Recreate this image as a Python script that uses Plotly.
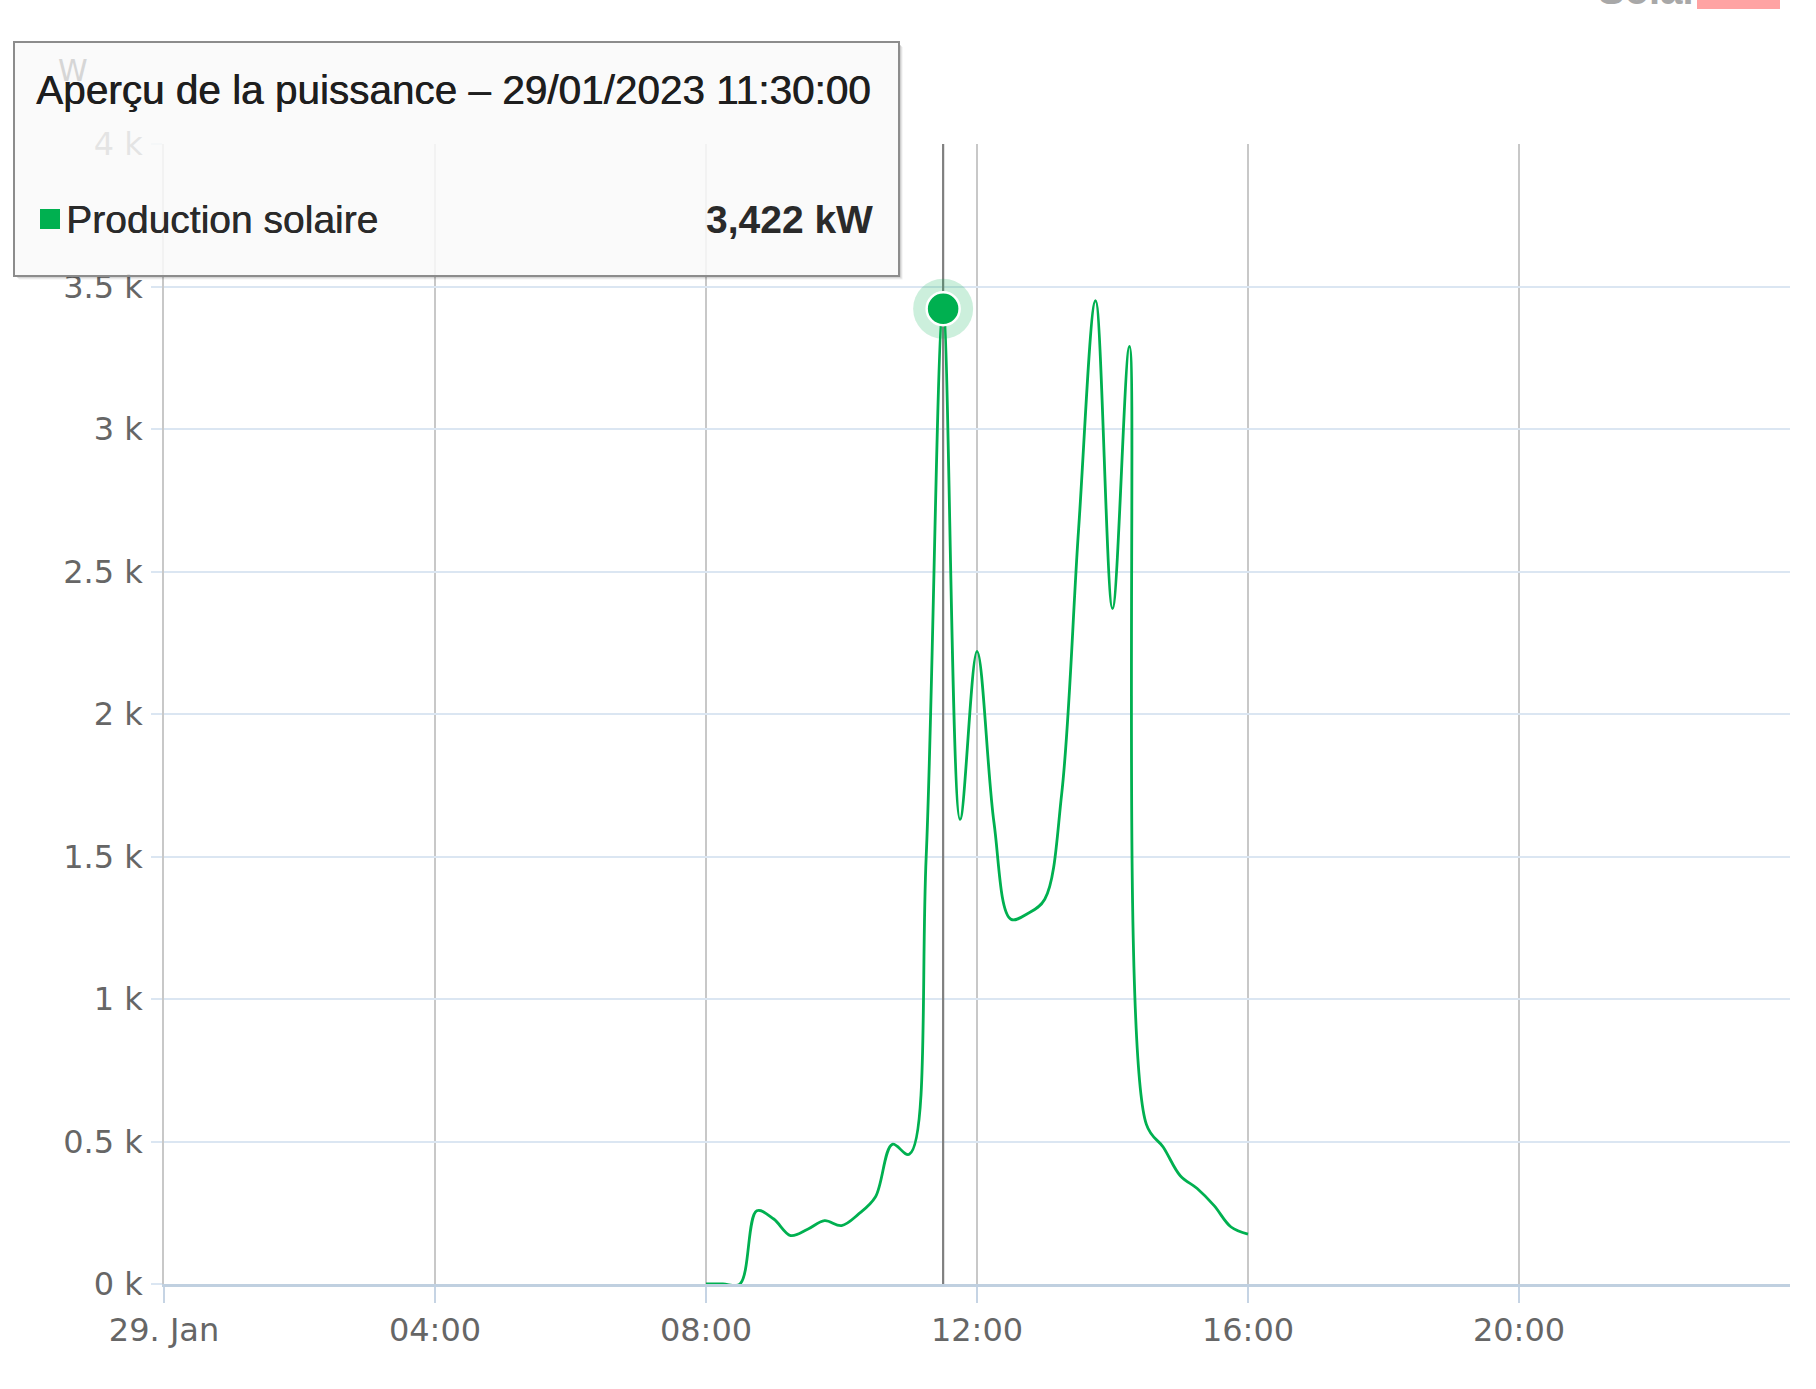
import plotly.graph_objects as go

# ---------------- data ----------------
day = "2023-01-29"
next_day = "2023-01-30"
times = ["08:00", "08:15", "08:30", "08:45", "09:00", "09:15", "09:30", "09:45",
         "10:00", "10:15", "10:30", "10:45", "11:00", "11:15", "11:30", "11:45",
         "12:00", "12:15", "12:30", "12:45", "13:00", "13:15", "13:30", "13:45",
         "14:00", "14:15", "14:30", "14:45", "15:00", "15:15", "15:30", "15:45",
         "16:00"]
power_kw = [0.0, 0.0, 0.0, 0.257, 0.228, 0.170, 0.192, 0.222,
            0.205, 0.245, 0.305, 0.490, 0.455, 1.50, 3.422, 1.63,
            2.22, 1.62, 1.28, 1.30, 1.35, 1.72, 2.65, 3.45,
            2.37, 3.29, 0.56, 0.48, 0.38, 0.335, 0.275, 0.20,
            0.175]
x_tick_times = ["00:00", "04:00", "08:00", "12:00", "16:00", "20:00"]
x_tick_text = ["29. Jan", "04:00", "08:00", "12:00", "16:00", "20:00"]
y_tick_vals = [0, 0.5, 1, 1.5, 2, 2.5, 3, 3.5, 4]
y_tick_text = ["0 k", "0.5 k", "1 k", "1.5 k", "2 k", "2.5 k", "3 k", "3.5 k", "4 k"]
series_name = "Production solaire"
tooltip_label = "Aperçu de la puissance – 29/01/2023"
hover_time = "11:30"
axis_unit = "W"
logo_text = "Solar"

# ---------------- style / geometry ----------------
GREEN = "#00b050"
W, H = 1816, 1389
PL, PR, PT, PB = 164, 1790, 144, 1284   # plot area in page pixels
L, T = PL, PT
R = W - PR
B = H - PB
PW, PH = W - L - R, H - T - B


def px_x(px):
    return (px - L) / PW


def px_y(py):
    return (H - B - py) / PH


xs = [f"{day} {t}" for t in times]
hi = times.index(hover_time)
hx, hy = xs[hi], power_kw[hi]

fig = go.Figure()
# crosshair at hovered point, spanning the value axis
fig.add_trace(go.Scatter(
    x=[hx, hx], y=[y_tick_vals[0], y_tick_vals[-1]], mode="lines",
    line=dict(color="#808080", width=2.2), hoverinfo="skip", showlegend=False))
fig.add_trace(go.Scatter(
    x=xs, y=power_kw, mode="lines", name=series_name,
    line=dict(color=GREEN, width=2.8, shape="spline", smoothing=1.0),
    hoverinfo="skip", showlegend=False))
fig.add_trace(go.Scatter(
    x=[hx], y=[hy], mode="markers", hoverinfo="skip", showlegend=False,
    marker=dict(size=60, color="rgba(0,176,80,0.2)", line=dict(width=0))))
fig.add_trace(go.Scatter(
    x=[hx], y=[hy], mode="markers", hoverinfo="skip", showlegend=False,
    marker=dict(size=33, color=GREEN, line=dict(width=2.5, color="white"))))

# tooltip box geometry (page pixels)
bx0, bx1, by0, by1 = 14, 899, 42, 276
shapes = []
for o, a in [(1, 0.22), (2, 0.12), (3, 0.06)]:
    path = (f"M {px_x(bx0 + o + 2)},{px_y(by1 + o)} L {px_x(bx1 + o)},{px_y(by1 + o)} "
            f"L {px_x(bx1 + o)},{px_y(by0 + o + 2)}")
    shapes.append(dict(type="path", xref="paper", yref="paper", path=path,
                       line=dict(color=f"rgba(0,0,0,{a})", width=1.2), layer="above"))
shapes.append(dict(type="rect", xref="paper", yref="paper",
                   x0=px_x(bx0), x1=px_x(bx1), y0=px_y(by1), y1=px_y(by0),
                   fillcolor="rgba(249,249,249,0.86)", line=dict(color="#8c8c8c", width=2),
                   layer="above"))
shapes.append(dict(type="rect", xref="paper", yref="paper",
                   x0=px_x(40), x1=px_x(60), y0=px_y(229), y1=px_y(209),
                   fillcolor=GREEN, line=dict(width=0), layer="above"))
# logo block, cut by the top edge
shapes.append(dict(type="rect", xref="paper", yref="paper",
                   x0=px_x(1697), x1=px_x(1780), y0=px_y(9), y1=px_y(-30),
                   fillcolor="#ffa3a3", line=dict(width=0), layer="above"))

value_txt = f"{hy:.3f}".replace(".", ",") + " kW"
annotations = [
    dict(text=axis_unit, xref="paper", yref="paper", x=px_x(73), y=px_y(70),
         xanchor="center", yanchor="middle", showarrow=False,
         font=dict(family="DejaVu Sans", size=30, color="#d6d6d6")),
    dict(text=f"{tooltip_label} {hover_time}:00", xref="paper", yref="paper",
         x=px_x(34), y=px_y(90), xanchor="left", yanchor="middle", showarrow=False,
         font=dict(family="Liberation Sans", size=40.5, color="#1e1e1e",
                   shadow="0.6px 0 0 #1e1e1e")),
    dict(text=series_name, xref="paper", yref="paper",
         x=px_x(64), y=px_y(219), xanchor="left", yanchor="middle", showarrow=False,
         font=dict(family="Liberation Sans", size=39, color="#2a2a2a",
                   shadow="0.5px 0 0 #2a2a2a")),
    dict(text=f"<b>{value_txt}</b>", xref="paper", yref="paper",
         x=px_x(875), y=px_y(219), xanchor="right", yanchor="middle", showarrow=False,
         font=dict(family="Liberation Sans", size=39, color="#2a2a2a")),
    dict(text=f"<b>{logo_text}</b>", xref="paper", yref="paper",
         x=px_x(1648), y=px_y(14), xanchor="center", yanchor="bottom", showarrow=False,
         font=dict(family="Liberation Sans", size=40, color="#a8a8a8")),
]

fig.update_layout(
    width=W, height=H,
    margin=dict(l=L, r=R, t=T, b=B, pad=0),
    paper_bgcolor="white", plot_bgcolor="white",
    shapes=shapes, annotations=annotations,
    showlegend=False,
    xaxis=dict(
        type="date", range=[f"{day} 00:00", f"{next_day} 00:00"],
        tickmode="array", tickvals=[f"{day} {t}" for t in x_tick_times], ticktext=x_tick_text,
        showgrid=True, gridcolor="#c8c8c8", gridwidth=1.6,
        ticks="outside", ticklen=16, tickwidth=1.6, tickcolor="#c6d4e4",
        showline=True, linecolor="#c0d0e0", linewidth=3,
        tickfont=dict(family="DejaVu Sans", size=32, color="#666666"),
        zeroline=False, fixedrange=True),
    yaxis=dict(
        range=[y_tick_vals[0], y_tick_vals[-1]], tickmode="array",
        tickvals=y_tick_vals, ticktext=y_tick_text,
        showgrid=True, gridcolor="#dbe6f2", gridwidth=1.6,
        ticks="outside", ticklen=11, tickwidth=1.6, tickcolor="#dbe6f2",
        showline=True, linecolor="#c8c8c8", linewidth=1.6,
        tickfont=dict(family="DejaVu Sans", size=32, color="#666666"),
        ticklabelstandoff=2, zeroline=False, fixedrange=True),
)

fig.write_html("out.html", config={"displayModeBar": False},
               post_script="document.body.style.margin='0';")
